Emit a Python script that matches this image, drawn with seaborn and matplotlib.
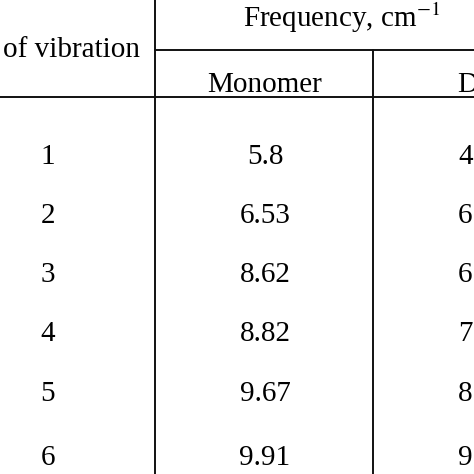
import matplotlib
matplotlib.use("Agg")
import matplotlib.pyplot as plt
import seaborn as sns

sns.set_style("white")
plt.rcParams['font.family'] = ['Liberation Serif', 'DejaVu Serif']
plt.rcParams['mathtext.fontset'] = 'stix'

modes = ['1', '2', '3', '4', '5', '6']
monomer = ['5.8', '6.53', '8.62', '8.82', '9.67', '9.91']
dimer_visible = ['4', '6', '6', '7', '8', '9']  # rest of the column is cut off

fig = plt.figure(figsize=(4.74, 4.74), dpi=100)
ax = fig.add_axes([0, 0, 1, 1])
ax.set_xlim(0, 474)
ax.set_ylim(474, 0)
ax.axis('off')

lw = 1.4
ax.plot([155, 155], [0, 474], color='#111111', lw=lw)
ax.plot([373, 373], [50, 474], color='#111111', lw=lw)
ax.plot([155, 474], [50, 50], color='#111111', lw=lw)
ax.plot([0, 474], [97, 97], color='#111111', lw=lw)

fs = 21
ax.text(72, 50, 'of vibration', ha='center', va='center', fontsize=fs, color='black')
ax.text(243, 18, 'Frequency, cm$^{-1}$', ha='left', va='center', fontsize=fs, color='black')
ax.text(265, 85, 'Monomer', ha='center', va='center', fontsize=fs, color='black')
ax.text(457, 85, 'Dimer', ha='left', va='center', fontsize=fs, color='black')

ys = [157, 214, 271, 326, 380, 460]
ys = [157, 216, 275, 334, 394, 458]
for y, m, v, d in zip(ys, modes, monomer, dimer_visible):
    ax.text(48, y, m, ha='center', va='center', fontsize=fs, color='black')
    ax.text(265, y, v, ha='center', va='center', fontsize=fs, color='black')
    ax.text(458, y, d, ha='left', va='center', fontsize=fs, color='black')

fig.savefig('out.png', dpi=100)
